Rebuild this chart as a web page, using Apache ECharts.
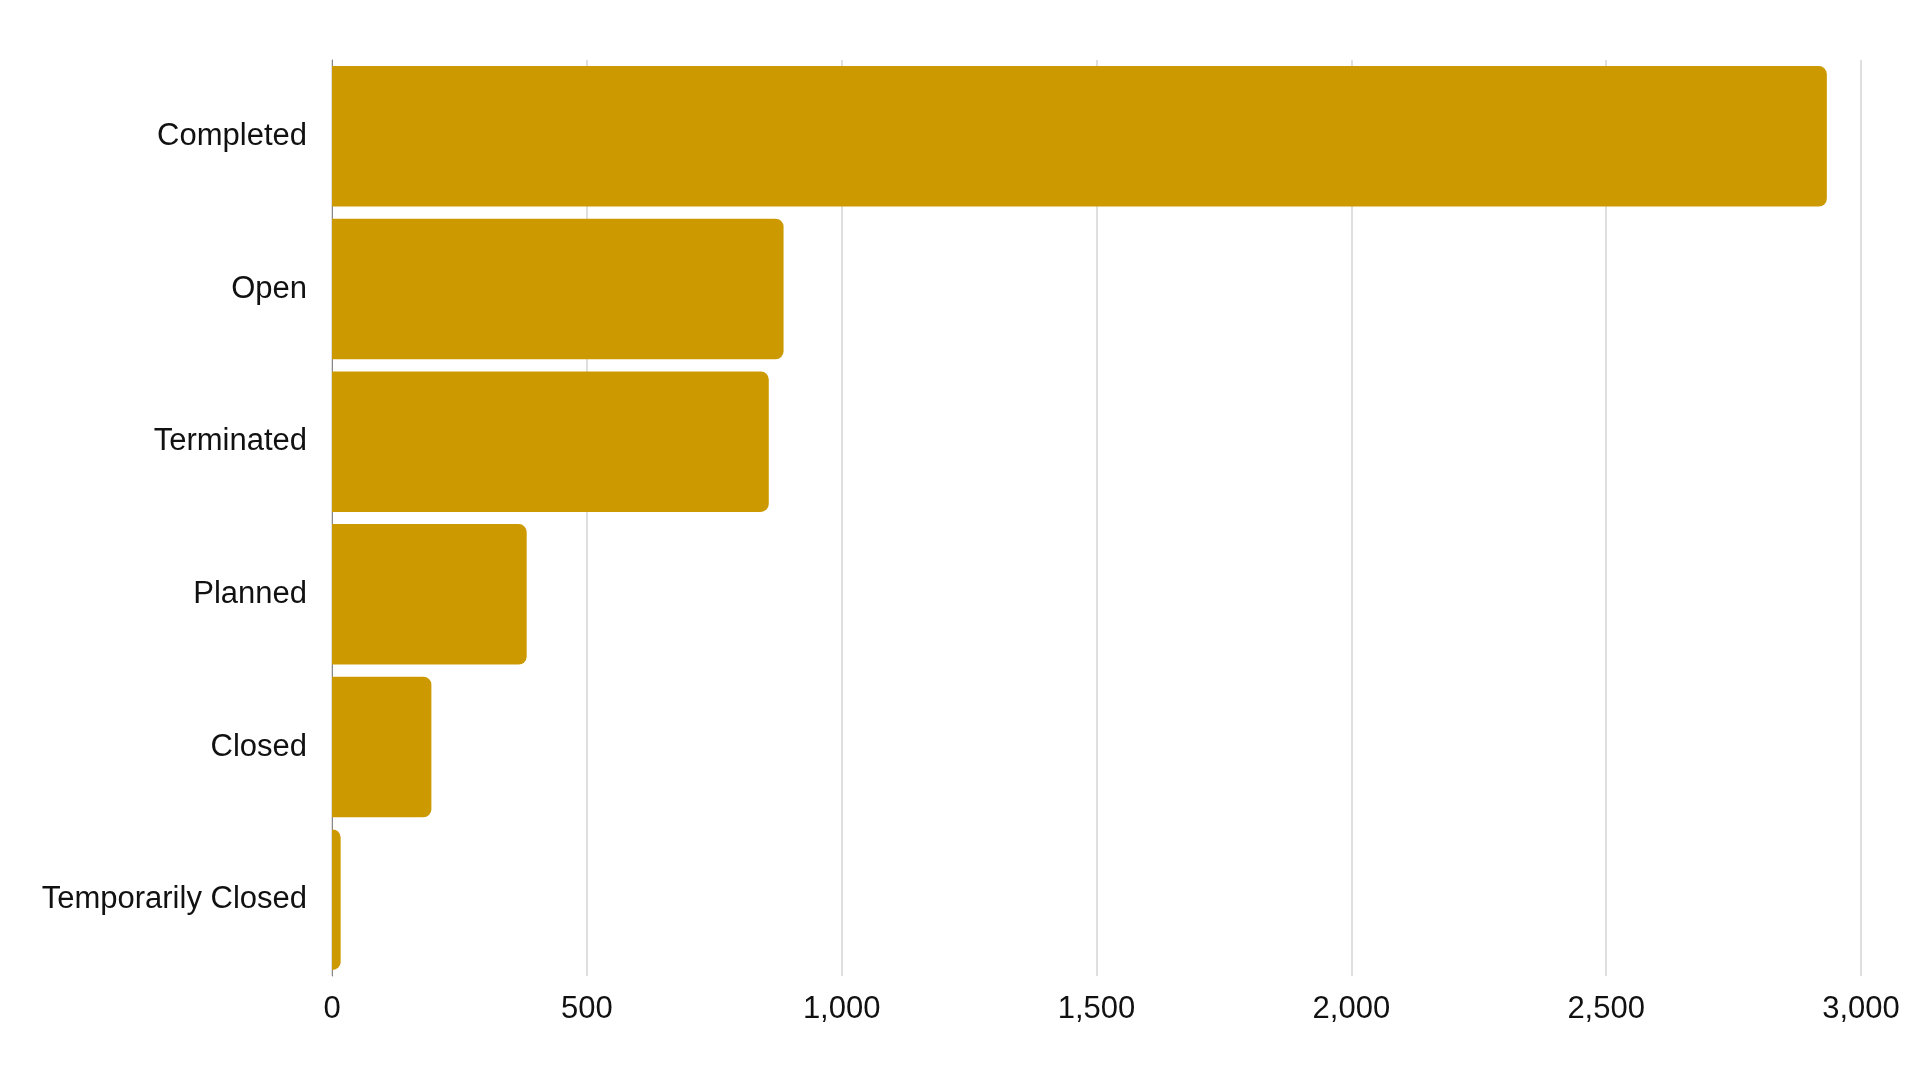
<!DOCTYPE html>
<html><head><meta charset="utf-8">
<script src="https://cdn.jsdelivr.net/npm/echarts@6/dist/echarts.min.js"></script>
<style>html,body{margin:0;background:#fff}#c{width:1920px;height:1080px}</style>
</head><body><div id="c"></div>
<script>
const categories = ["Completed","Open","Terminated","Planned","Closed","Temporarily Closed"];
const values = [2933, 886, 857, 382, 195, 17];
const xTicks = [0,500,1000,1500,2000,2500,3000];
const chart = echarts.init(document.getElementById('c'));
chart.setOption({
  animation:false,
  grid:{left:332,right:59,top:60,bottom:104},
  xAxis:{type:'value',min:0,max:3000,interval:500,
    axisLabel:{fontSize:31,color:'#111',fontFamily:'Liberation Sans, Arial',margin:18},
    splitLine:{lineStyle:{color:'#d4d4d4',width:1.5}},axisLine:{show:false},axisTick:{show:false}},
  yAxis:{type:'category',inverse:true,data:categories,
    axisLabel:{fontSize:31,color:'#111',fontFamily:'Liberation Sans, Arial',margin:25},
    axisLine:{show:true,lineStyle:{color:'#888',width:1}},axisTick:{show:false}},
  series:[{type:'bar',data:values,barCategoryGap:'8%',
    itemStyle:{color:'#CC9A00',borderRadius:[0,8,8,0]}}]
});
</script></body></html>
